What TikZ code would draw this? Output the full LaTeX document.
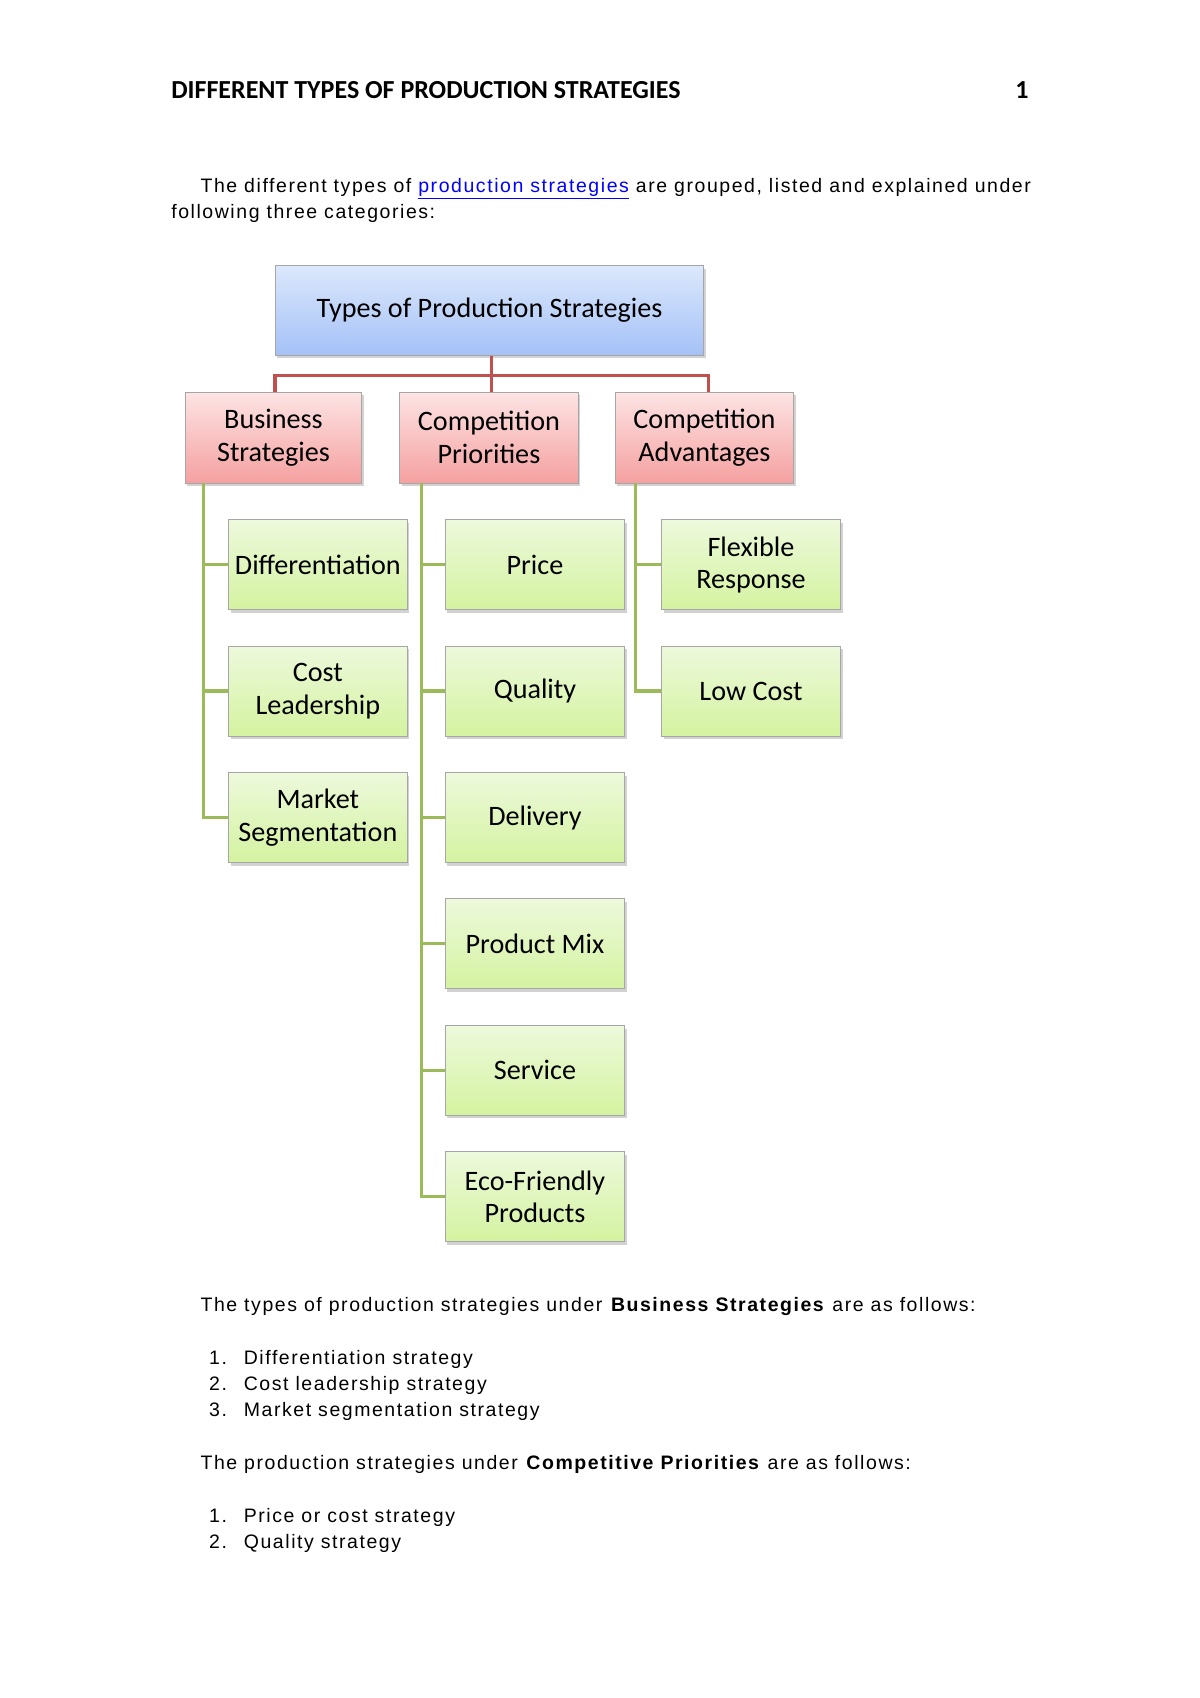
\documentclass[tikz,border=0pt]{standalone}
\usepackage{fontspec}
\setmainfont[LetterSpace=8]{Liberation Sans}
\newfontfamily\calfnt{Carlito}
\usetikzlibrary{shadows}
\definecolor{redl}{HTML}{C0504D}
\definecolor{grnl}{HTML}{9BBB59}
\definecolor{linkb}{HTML}{0000FF}
\tikzset{
 base/.style={draw=black!35,line width=0.8pt,align=center,font=\calfnt\fontsize{26}{30}\selectfont,inner sep=0pt,drop shadow={shadow xshift=2pt,shadow yshift=-3pt,opacity=0.35}},
 topbox/.style={base,top color={rgb,255:red,220;green,232;blue,252},bottom color={rgb,255:red,164;green,193;blue,247}},
 midbox/.style={base,top color={rgb,255:red,253;green,228;blue,228},bottom color={rgb,255:red,245;green,160;blue,160}},
 leaf/.style={base,top color={rgb,255:red,237;green,249;blue,220},bottom color={rgb,255:red,212;green,243;blue,160}},
 txt/.style={anchor=base west,inner sep=0pt,font=\fontsize{18}{22}\selectfont},
 hd/.style={anchor=base west,inner sep=0pt,font=\calfnt\bfseries\fontsize{24}{26}\selectfont},
 rl/.style={draw=redl,line width=3pt},
 gl/.style={draw=grnl,line width=3pt}
}
\begin{document}
\begin{tikzpicture}[x=1pt,y=-1pt]
\useasboundingbox[fill=white] (0,0) rectangle (1108,1568);
\node[hd] (h) at (158,91) {DIFFERENT TYPES OF PRODUCTION STRATEGIES};
\node[hd,anchor=base east] (pn) at (950,91) {1};
\node[txt] (p1) at (185,178) {The different types of \textcolor{linkb}{\underline{production strategies}} are grouped, listed and explained under};
\node[txt] (p2) at (158,202) {following three categories:};
% top
\node[topbox,minimum width=396pt,minimum height=83pt] (top) at (452,286.5) {Types of Production Strategies};
\node[midbox,minimum width=163pt,minimum height=84pt] (bs) at (252.5,404) {Business\\Strategies};
\node[midbox,minimum width=165pt,minimum height=84pt] (cp) at (451.5,404) {Competition\\Priorities};
\node[midbox,minimum width=165pt,minimum height=84pt] (ca) at (650.5,404) {Competition\\Advantages};
\coordinate (j) at (454,347);
\draw[rl] (top.south -| j) -- (j);
\draw[rl] (bs.north -| 254,0) -- (254,347) -- (654,347) -- (ca.north -| 654,0);
\draw[rl] (j) -- (cp.north -| j);
% leaves
\foreach \n/\t [count=\i] in {d/Differentiation,c/Cost\\Leadership,m/Market\\Segmentation}{
 \node[leaf,minimum width=165pt,minimum height=83pt] (b\n) at (293.5,{521.5+(\i-1)*116.7}) {\t};
 \draw[gl] (188,446) |- (b\n.west);
}
\foreach \n/\t [count=\i] in {p/Price,q/Quality,d/Delivery,x/Product Mix,s/Service,e/Eco-Friendly\\Products}{
 \node[leaf,minimum width=166pt,minimum height=83pt] (p\n) at (494,{521.5+(\i-1)*116.7}) {\t};
 \draw[gl] (389,446) |- (p\n.west);
}
\foreach \n/\t [count=\i] in {f/Flexible\\Response,l/Low Cost}{
 \node[leaf,minimum width=165pt,minimum height=83pt] (a\n) at (693.5,{521.5+(\i-1)*116.7}) {\t};
 \draw[gl] (587,446) |- (a\n.west);
}
% body text
\node[txt] (t1) at (185,1211) {The types of production strategies under \textbf{Business Strategies} are as follows:};
\node[txt] (l1) at (193,1260) {1.};\node[txt] (l1t) at (225,1260) {Differentiation strategy};
\node[txt] (l2) at (193,1284) {2.};\node[txt] (l2t) at (225,1284) {Cost leadership strategy};
\node[txt] (l3) at (193,1308) {3.};\node[txt] (l3t) at (225,1308) {Market segmentation strategy};
\node[txt] (t2) at (185,1357) {The production strategies under \textbf{Competitive Priorities} are as follows:};
\node[txt] (k1) at (193,1406) {1.};\node[txt] (k1t) at (225,1406) {Price or cost strategy};
\node[txt] (k2) at (193,1430) {2.};\node[txt] (k2t) at (225,1430) {Quality strategy};
\end{tikzpicture}
\end{document}
